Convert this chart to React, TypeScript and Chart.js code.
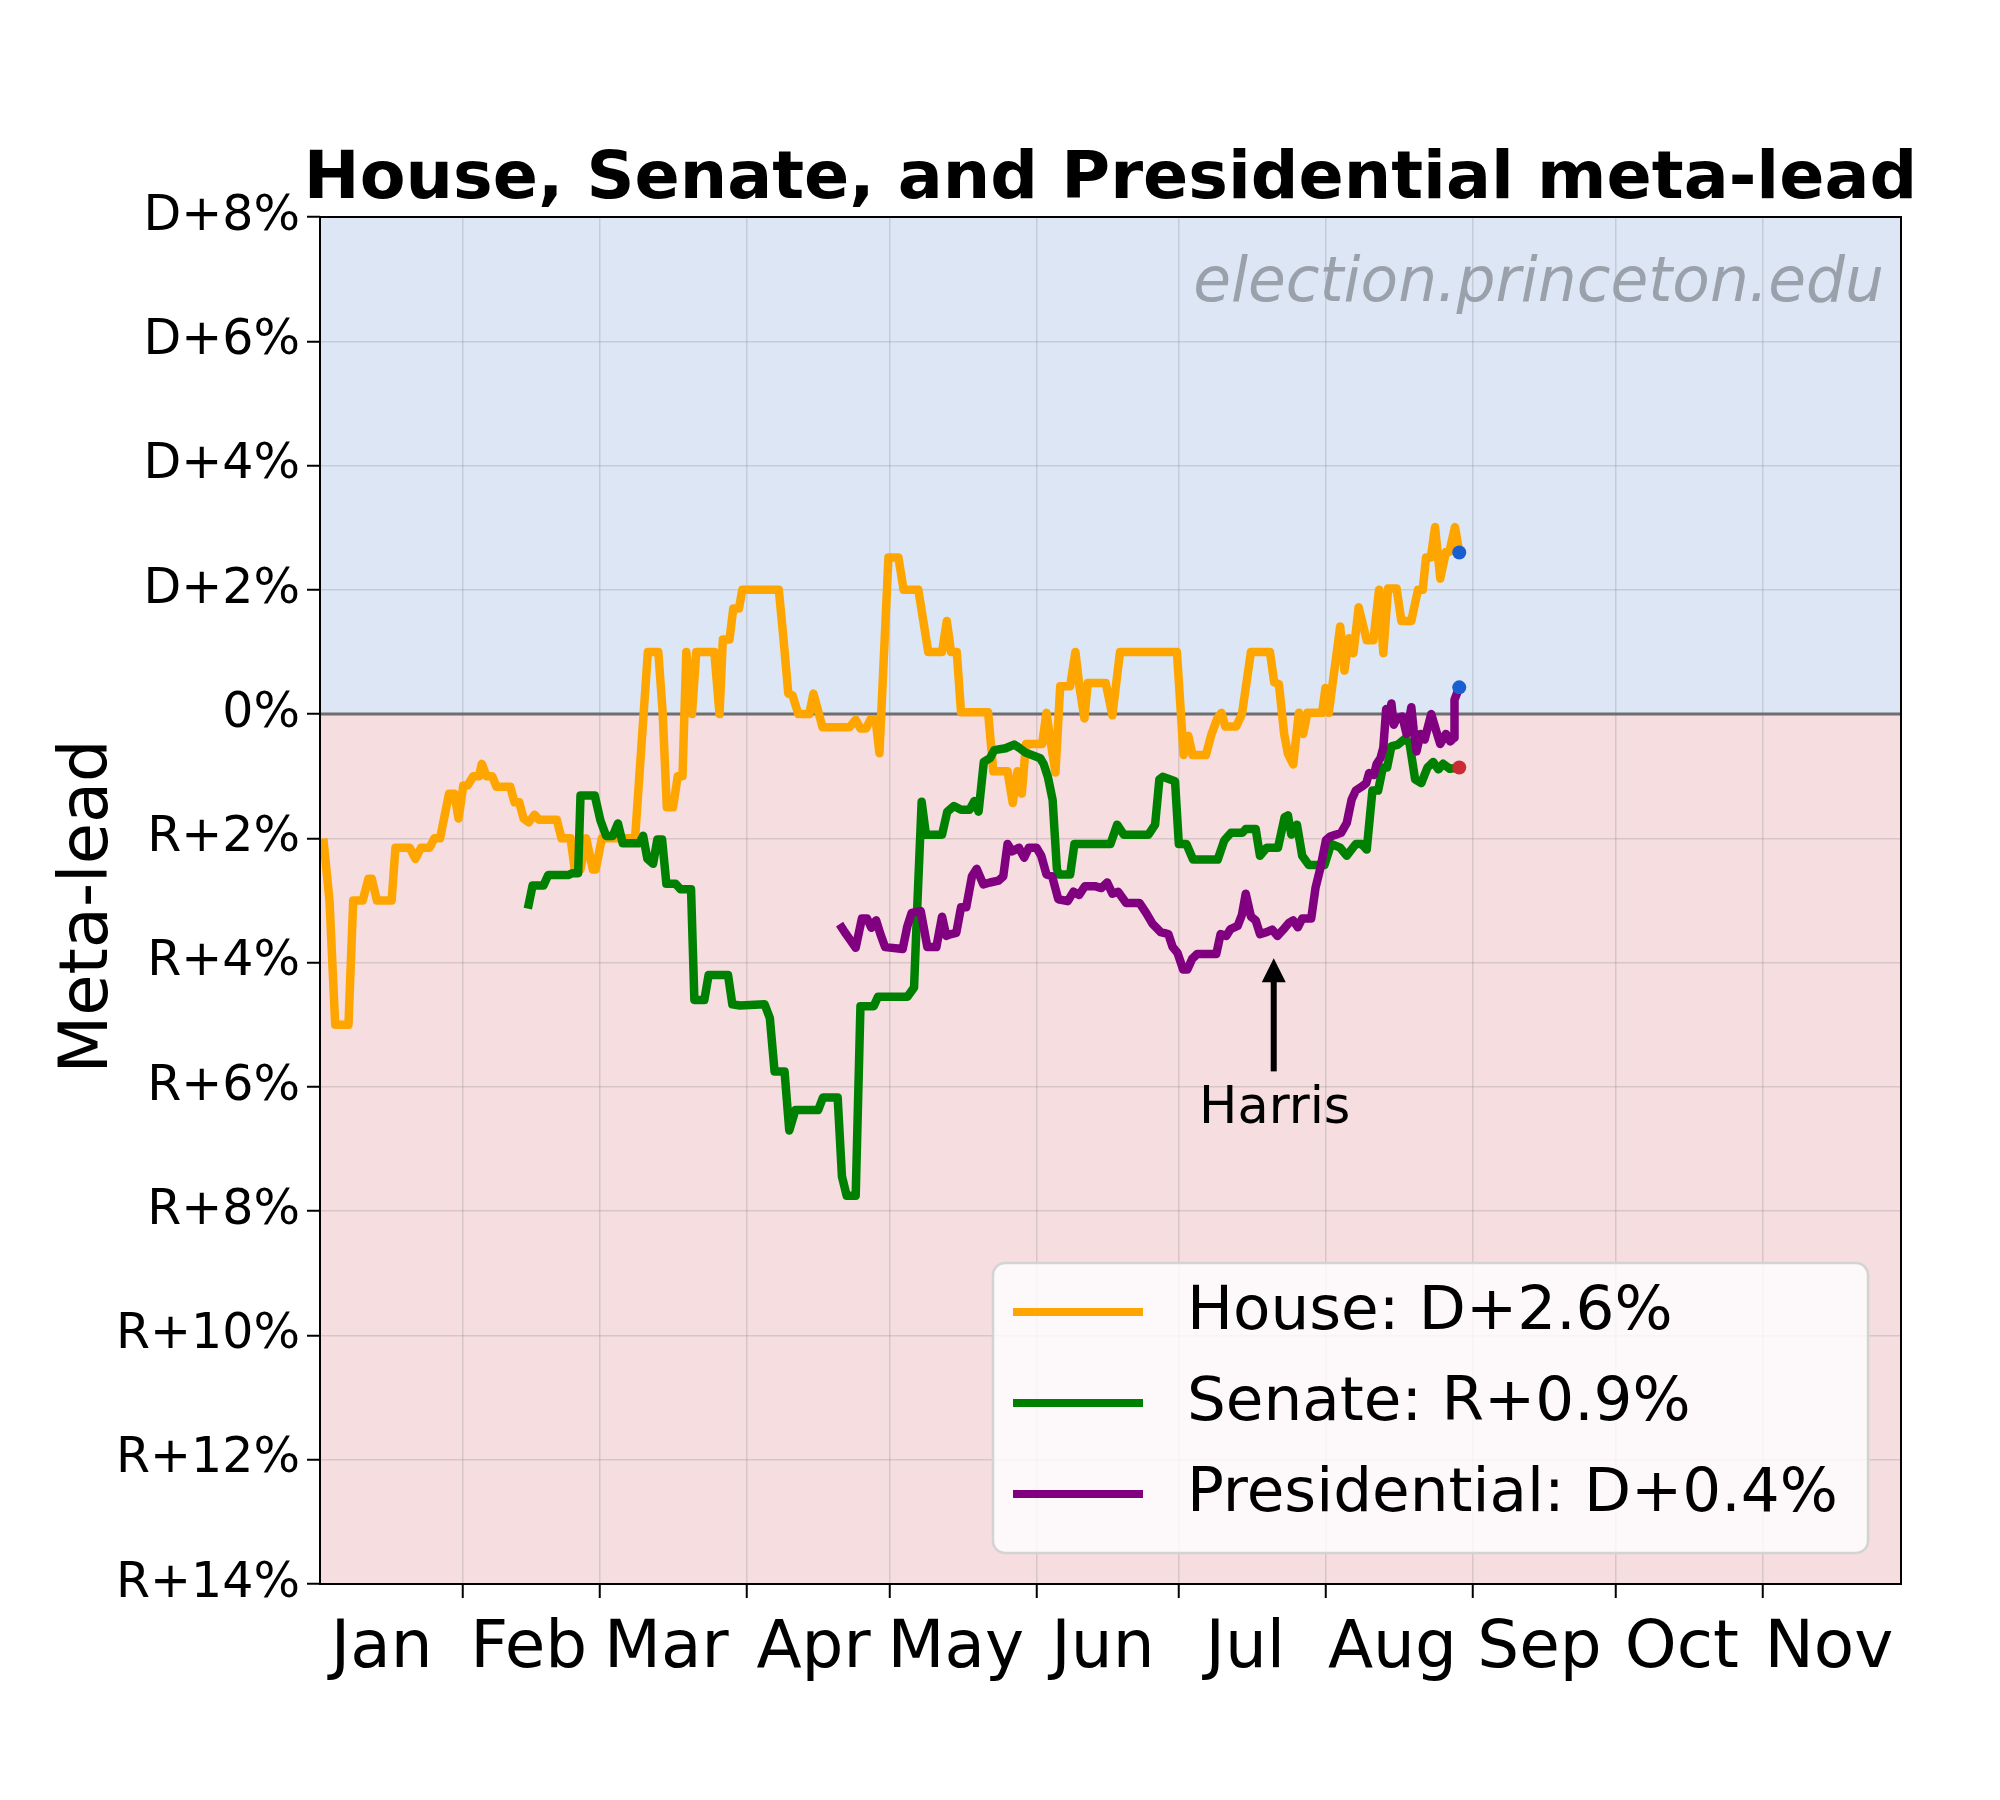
import React, { useEffect, useRef } from 'react';
import { Chart, registerables } from 'chart.js';

Chart.register(...registerables);

// ---- Data (x = day of year 2024, 0 = Jan 1; y = meta-lead in %, + = D, - = R) ----
const HOUSE_DAYS = [1.7, 3, 4.2, 7, 8, 10, 11.2, 11.9, 13, 16.1, 16.9, 19.9, 21.1, 22.3, 24.1, 25.1, 26.3, 28.2, 29.3, 30.2, 31.2, 32.1, 33.3, 34.5, 35.1, 36.1, 37.3, 38.2, 41.1, 42, 43, 43.9, 45, 46.2, 47.2, 50.9, 51.9, 53.8, 54.7, 55.9, 57.1, 58.5, 59.1, 60.4, 67.4, 70.1, 72.3, 73.2, 74.1, 75.4, 76.4, 77.4, 78.2, 79.4, 80.3, 84.1, 85.2, 85.9, 87.3, 88.1, 89.3, 90, 97.7, 98.6, 99.7, 100.6, 101.8, 104.1, 105, 106.9, 112.6, 113.9, 114.9, 116.1, 117, 118.1, 118.9, 120.8, 122.9, 124, 127.1, 129.2, 132.1, 133.1, 134, 135.2, 136.1, 141.8, 142.9, 145.9, 147, 148, 148.9, 149.8, 153.2, 154.1, 155.3, 156, 157, 159.1, 160.2, 161.1, 162.1, 162.8, 166.6, 168, 169.6, 181.6, 183, 184, 184.9, 187.7, 188.9, 190.1, 191, 191.8, 194.1, 195.3, 197.2, 201.2, 202.1, 203.1, 204.2, 205, 206.1, 207.3, 208.2, 209.1, 212.2, 212.9, 213.6, 216, 216.9, 217.9, 218.8, 219.9, 221.6, 223, 224.2, 225.1, 226.1, 227.9, 228.9, 231, 232.4, 233.4, 234.1, 235.1, 236, 237.1, 238.3, 239, 240.2, 241.1];
const HOUSE_LEAD = [-2.0, -3.0, -5.0, -5.0, -3.0, -3.0, -2.65, -2.65, -3.0, -3.0, -2.15, -2.15, -2.33, -2.15, -2.15, -2.0, -2.0, -1.28, -1.28, -1.68, -1.15, -1.15, -1.0, -1.0, -0.8, -1.0, -1.0, -1.17, -1.17, -1.42, -1.42, -1.68, -1.74, -1.62, -1.7, -1.7, -2.0, -2.0, -2.5, -2.5, -2.0, -2.5, -2.5, -2.0, -2.0, 1.0, 1.0, 0.05, -1.5, -1.5, -1.0, -1.0, 1.0, 0.0, 1.0, 1.0, 0.0, 1.2, 1.2, 1.7, 1.7, 2.0, 2.0, 1.28, 0.33, 0.3, 0.0, 0.0, 0.33, -0.21, -0.21, -0.09, -0.23, -0.23, -0.09, -0.09, -0.63, 2.52, 2.52, 2.0, 2.0, 1.0, 1.0, 1.5, 1.0, 1.0, 0.03, 0.03, -0.92, -0.92, -1.43, -0.92, -1.28, -0.48, -0.48, 0.02, -0.6, -0.94, 0.45, 0.45, 1.0, 0.42, -0.07, 0.5, 0.5, -0.02, 1.0, 1.0, -0.66, -0.35, -0.66, -0.66, -0.32, -0.07, 0.02, -0.2, -0.2, 0.0, 1.0, 1.0, 0.51, 0.48, -0.32, -0.64, -0.81, 0.02, -0.32, 0.02, 0.02, 0.42, 0.02, 1.41, 0.7, 1.22, 0.98, 1.72, 1.19, 1.19, 2.0, 0.98, 2.02, 2.02, 1.5, 1.5, 2.0, 2.0, 2.52, 2.52, 3.01, 2.18, 2.61, 2.61, 3.01, 2.61];

const SENATE_DAYS = [44.8, 45.8, 48.1, 49.1, 53.3, 54.2, 55.4, 55.9, 58.9, 60.1, 61.3, 62.7, 63.8, 64.8, 68.3, 69.1, 70, 71.2, 72.1, 73.1, 74, 75.9, 77, 79.2, 79.9, 82, 82.9, 87, 87.9, 89.5, 94.7, 95.8, 96.8, 98.9, 99.9, 101.2, 106, 107, 110.1, 111, 112, 113.9, 114.9, 117.7, 118.6, 124.8, 126.2, 126.8, 127.8, 128.7, 132.1, 133.2, 134.6, 136.1, 137.9, 138.9, 139.8, 140.9, 142.2, 143.1, 145.5, 147.3, 148.3, 149.7, 152.8, 153.5, 154.4, 155.4, 156.3, 156.7, 159.1, 160, 167.6, 169, 170.4, 175.6, 177, 177.9, 178.6, 181.2, 182, 183.6, 185, 190.2, 191.6, 193, 195.4, 196.1, 198.2, 199.1, 200.5, 202.9, 204.3, 205, 205.7, 206.9, 208, 209.4, 212.7, 214.1, 216, 217.4, 219.3, 220.5, 221.6, 222.8, 224, 225, 225.9, 226.8, 228.2, 229.6, 230.6, 231.8, 233.1, 234.4, 235.6, 236.7, 237.7, 239.1, 241.1];
const SENATE_LEAD = [-3.13, -2.76, -2.76, -2.59, -2.59, -2.56, -2.56, -1.31, -1.31, -1.71, -1.96, -1.96, -1.76, -2.08, -2.08, -1.96, -2.33, -2.41, -2.02, -2.02, -2.73, -2.73, -2.82, -2.82, -4.6, -4.6, -4.2, -4.2, -4.67, -4.69, -4.67, -4.89, -5.75, -5.75, -6.7, -6.37, -6.37, -6.17, -6.17, -7.44, -7.75, -7.75, -4.7, -4.7, -4.55, -4.55, -4.4, -3.23, -1.41, -1.94, -1.94, -1.57, -1.48, -1.54, -1.54, -1.4, -1.57, -0.77, -0.71, -0.58, -0.55, -0.49, -0.54, -0.62, -0.71, -0.8, -1.01, -1.38, -2.49, -2.58, -2.58, -2.09, -2.09, -1.78, -1.94, -1.94, -1.78, -1.05, -1.01, -1.08, -2.09, -2.09, -2.34, -2.34, -2.03, -1.91, -1.91, -1.85, -1.85, -2.28, -2.15, -2.15, -1.66, -1.63, -1.94, -1.78, -2.28, -2.43, -2.43, -2.09, -2.15, -2.28, -2.09, -2.09, -2.18, -1.23, -1.23, -0.86, -0.86, -0.52, -0.49, -0.4, -0.46, -1.05, -1.11, -0.86, -0.77, -0.89, -0.8, -0.88, -0.86];

const PRES_DAYS = [110.5, 111.6, 112.7, 113.9, 115.2, 116.3, 117.2, 118.2, 119.1, 120.1, 123.8, 124.8, 125.7, 127.6, 129, 130.9, 132.1, 133, 134, 135.1, 136.1, 137.2, 138.4, 139.4, 140.8, 142.2, 144, 145, 145.9, 146.9, 148.3, 149.4, 150.4, 152, 153, 154.1, 155.3, 156.6, 158.6, 159.8, 161, 162.2, 164.3, 165.7, 166.9, 168, 169.2, 170.9, 173.7, 175.1, 176.5, 178.2, 179.8, 180.7, 181.7, 182.9, 183.8, 184.8, 185.9, 189.9, 190.8, 192, 192.9, 194.4, 195.3, 196.1, 197.2, 198.2, 199.1, 200.5, 201.7, 202.8, 204, 205.2, 206.1, 207.1, 208, 209.9, 210.8, 211.8, 213, 213.9, 215.1, 216.2, 217.4, 218.4, 219.3, 220.5, 221.5, 222.1, 223.1, 223.7, 224.5, 225.1, 225.7, 226.3, 226.8, 227.3, 227.9, 229.1, 230, 231, 231.5, 232.1, 232.9, 233.8, 235.2, 236.2, 237.1, 238.3, 239.2, 240, 240.1, 241.1];
const PRES_LEAD = [-3.38, -3.51, -3.63, -3.76, -3.29, -3.29, -3.44, -3.32, -3.54, -3.75, -3.78, -3.41, -3.2, -3.17, -3.75, -3.75, -3.26, -3.57, -3.54, -3.52, -3.11, -3.11, -2.61, -2.49, -2.74, -2.71, -2.68, -2.61, -2.09, -2.21, -2.15, -2.31, -2.15, -2.15, -2.28, -2.58, -2.61, -2.98, -3.01, -2.86, -2.91, -2.77, -2.77, -2.8, -2.71, -2.89, -2.86, -3.04, -3.04, -3.2, -3.38, -3.51, -3.54, -3.75, -3.84, -4.11, -4.11, -3.94, -3.86, -3.86, -3.54, -3.57, -3.46, -3.41, -3.23, -2.89, -3.26, -3.32, -3.54, -3.51, -3.47, -3.57, -3.47, -3.36, -3.32, -3.43, -3.29, -3.29, -2.8, -2.49, -2.03, -1.97, -1.94, -1.91, -1.75, -1.38, -1.23, -1.17, -1.11, -0.95, -0.98, -0.8, -0.71, -0.54, 0.08, -0.04, 0.17, -0.17, -0.07, -0.04, -0.32, 0.11, -0.26, -0.6, -0.32, -0.41, 0.0, -0.26, -0.48, -0.32, -0.44, -0.38, 0.23, 0.43];

const FINAL_DAY = 241.1;
const FINAL_LEADS = [2.6, -0.86, 0.43];
const FINAL_COLORS = ['#1a5fd0', '#cc2b36', '#1a5fd0'];

const SERIES_NAMES = ['House: D+2.6%', 'Senate: R+0.9%', 'Presidential: D+0.4%'];
const SERIES_COLORS = ['#ffa500', '#008000', '#800080'];

const MONTHS = ['Jan', 'Feb', 'Mar', 'Apr', 'May', 'Jun', 'Jul', 'Aug', 'Sep', 'Oct', 'Nov'];
const MONTH_STARTS = [0, 31, 60, 91, 121, 152, 182, 213, 244, 274, 305];
const Y_TICKS = [-14, -12, -10, -8, -6, -4, -2, 0, 2, 4, 6, 8];

const HARRIS_DAY = 202;
const HARRIS_TIP = -3.93;
const HARRIS_TAIL = -5.75;

const X_MIN = 1;
const X_MAX = 334.2;

const FONT = '"DejaVu Sans", "Liberation Sans", sans-serif';

const pts = (xs: number[], ys: number[]) => xs.map((x, i) => ({ x, y: ys[i] }));

const yLabel = (v: number) => (v > 0 ? `D+${v}%` : v < 0 ? `R+${-v}%` : '0%');

const decorPlugin = {
  id: 'decor',
  beforeDraw(chart: any) {
    const { ctx, chartArea: a, scales } = chart;
    const y0 = scales.y.getPixelForValue(0);
    ctx.save();
    ctx.fillStyle = '#ffffff';
    ctx.fillRect(0, 0, chart.width, chart.height);
    ctx.fillStyle = '#dce6f5';
    ctx.fillRect(a.left, a.top, a.right - a.left, y0 - a.top);
    ctx.fillStyle = '#f5dde0';
    ctx.fillRect(a.left, y0, a.right - a.left, a.bottom - y0);
    ctx.restore();
  },
  beforeDatasetsDraw(chart: any) {
    const { ctx, chartArea: a, scales } = chart;
    const y0 = scales.y.getPixelForValue(0);
    ctx.save();
    ctx.strokeStyle = '#6e6e6e';
    ctx.lineWidth = 3;
    ctx.beginPath();
    ctx.moveTo(a.left, y0);
    ctx.lineTo(a.right, y0);
    ctx.stroke();
    // watermark
    ctx.fillStyle = '#9aa1aa';
    ctx.font = `italic 61.4px ${FONT}`;
    ctx.textAlign = 'right';
    ctx.textBaseline = 'alphabetic';
    ctx.fillText('election.princeton.edu', a.right - 17, a.top + 84);
    ctx.restore();
  },
  afterDraw(chart: any) {
    const { ctx, chartArea: a, scales } = chart;
    ctx.save();
    // spines
    ctx.strokeStyle = '#000';
    ctx.lineWidth = 2;
    ctx.strokeRect(a.left, a.top, a.right - a.left, a.bottom - a.top);

    // title
    ctx.fillStyle = '#000';
    ctx.font = `bold 66.7px ${FONT}`;
    ctx.textAlign = 'center';
    ctx.textBaseline = 'alphabetic';
    ctx.fillText('House, Senate, and Presidential meta-lead', (a.left + a.right) / 2, a.top - 19);

    // y axis title
    ctx.save();
    ctx.translate(107, (a.top + a.bottom) / 2 + 6);
    ctx.rotate(-Math.PI / 2);
    ctx.font = `67px ${FONT}`;
    ctx.textAlign = 'center';
    ctx.textBaseline = 'alphabetic';
    ctx.fillText('Meta-lead', 0, 0);
    ctx.restore();

    // Harris arrow
    const hx = scales.x.getPixelForValue(HARRIS_DAY);
    const tipY = scales.y.getPixelForValue(HARRIS_TIP);
    const tailY = scales.y.getPixelForValue(HARRIS_TAIL);
    const headLen = 24;
    const headW = 24;
    ctx.fillStyle = '#000';
    ctx.fillRect(hx - 3, tipY + headLen - 1, 6, tailY - tipY - headLen + 1);
    ctx.beginPath();
    ctx.moveTo(hx, tipY);
    ctx.lineTo(hx - headW / 2, tipY + headLen);
    ctx.lineTo(hx + headW / 2, tipY + headLen);
    ctx.closePath();
    ctx.fill();
    ctx.font = `51px ${FONT}`;
    ctx.textAlign = 'center';
    ctx.textBaseline = 'alphabetic';
    ctx.fillText('Harris', hx + 1, tailY + 52);

    // legend
    const bw = 875;
    const bh = 290;
    const bx = a.right - 33 - bw;
    const by = a.bottom - 31 - bh;
    const r = 12;
    ctx.beginPath();
    ctx.moveTo(bx + r, by);
    ctx.lineTo(bx + bw - r, by);
    ctx.arcTo(bx + bw, by, bx + bw, by + r, r);
    ctx.lineTo(bx + bw, by + bh - r);
    ctx.arcTo(bx + bw, by + bh, bx + bw - r, by + bh, r);
    ctx.lineTo(bx + r, by + bh);
    ctx.arcTo(bx, by + bh, bx, by + bh - r, r);
    ctx.lineTo(bx, by + r);
    ctx.arcTo(bx, by, bx + r, by, r);
    ctx.closePath();
    ctx.fillStyle = 'rgba(255,255,255,0.8)';
    ctx.fill();
    ctx.strokeStyle = '#d3d3d3';
    ctx.lineWidth = 2.5;
    ctx.stroke();
    ctx.font = `61.2px ${FONT}`;
    ctx.textAlign = 'left';
    ctx.textBaseline = 'middle';
    SERIES_NAMES.forEach((name, i) => {
      const ry = by + 49 + i * 91;
      ctx.strokeStyle = SERIES_COLORS[i];
      ctx.lineWidth = 8;
      ctx.lineCap = 'butt';
      ctx.beginPath();
      ctx.moveTo(bx + 20, ry);
      ctx.lineTo(bx + 150, ry);
      ctx.stroke();
      ctx.fillStyle = '#000';
      ctx.fillText(name, bx + 194, ry + 1);
    });
    ctx.restore();
  },
};

export default function App() {
  const ref = useRef<HTMLCanvasElement | null>(null);

  useEffect(() => {
    document.body.style.margin = '0';
    const canvas = ref.current;
    if (!canvas) return;
    const gridColor = 'rgba(128,128,128,0.25)';
    const transparent = 'rgba(0,0,0,0)';
    const chart = new Chart(canvas, {
      type: 'line',
      data: {
        datasets: [
          {
            label: 'final',
            data: FINAL_LEADS.map((y) => ({ x: FINAL_DAY, y })),
            showLine: false,
            pointRadius: 7,
            pointBorderWidth: 0,
            pointBackgroundColor: FINAL_COLORS,
            order: 0,
          },
          {
            label: SERIES_NAMES[2],
            data: pts(PRES_DAYS, PRES_LEAD),
            borderColor: SERIES_COLORS[2],
            borderWidth: 8.5,
            pointRadius: 0,
            borderJoinStyle: 'round',
            order: 1,
          },
          {
            label: SERIES_NAMES[1],
            data: pts(SENATE_DAYS, SENATE_LEAD),
            borderColor: SERIES_COLORS[1],
            borderWidth: 8.5,
            pointRadius: 0,
            borderJoinStyle: 'round',
            order: 2,
          },
          {
            label: SERIES_NAMES[0],
            data: pts(HOUSE_DAYS, HOUSE_LEAD),
            borderColor: SERIES_COLORS[0],
            borderWidth: 8.5,
            pointRadius: 0,
            borderJoinStyle: 'round',
            order: 3,
          },
        ],
      } as any,
      options: {
        animation: false,
        responsive: false,
        devicePixelRatio: 1,
        layout: { padding: { left: 0, top: 217, right: 99, bottom: 0 } },
        plugins: {
          legend: { display: false },
          title: { display: false },
          tooltip: { enabled: false },
        },
        elements: { line: { tension: 0 } },
        scales: {
          x: {
            type: 'linear',
            min: X_MIN,
            max: X_MAX,
            afterBuildTicks: (axis: any) => {
              const vals: number[] = [];
              MONTH_STARTS.forEach((s) => {
                vals.push(s);
                vals.push(s + 14);
              });
              axis.ticks = vals.filter((v) => v >= X_MIN && v <= X_MAX).map((value) => ({ value }));
            },
            afterFit: (axis: any) => {
              axis.height = 216;
            },
            border: { display: false },
            grid: {
              color: (c: any) => (MONTH_STARTS.includes(c.tick?.value) ? gridColor : transparent),
              tickColor: (c: any) => (MONTH_STARTS.includes(c.tick?.value) ? '#000' : transparent),
              lineWidth: 1.5,
              tickLength: 14,
              tickWidth: 2,
            },
            ticks: {
              autoSkip: false,
              maxRotation: 0,
              minRotation: 0,
              padding: 19,
              color: '#000',
              font: { family: FONT, size: 66, lineHeight: 1 },
              callback: (v: any) => {
                const i = MONTH_STARTS.indexOf(Number(v) - 14);
                return i >= 0 ? MONTHS[i] : '';
              },
            },
          },
          y: {
            type: 'linear',
            min: -14,
            max: 8,
            afterBuildTicks: (axis: any) => {
              axis.ticks = Y_TICKS.map((value) => ({ value }));
            },
            afterFit: (axis: any) => {
              axis.width = 320;
            },
            border: { display: false },
            grid: {
              color: gridColor,
              tickColor: '#000',
              lineWidth: 1.5,
              tickLength: 13,
              tickWidth: 2,
            },
            ticks: {
              padding: 7,
              color: '#000',
              font: { family: FONT, size: 49, lineHeight: 1 },
              callback: (v: any) => yLabel(Number(v)),
            },
          },
        },
      } as any,
      plugins: [decorPlugin],
    });
    return () => chart.destroy();
  }, []);

  return (
    <div style={{ width: 2000, height: 1800 }}>
      <canvas ref={ref} width={2000} height={1800} style={{ display: 'block', width: 2000, height: 1800 }} />
    </div>
  );
}
